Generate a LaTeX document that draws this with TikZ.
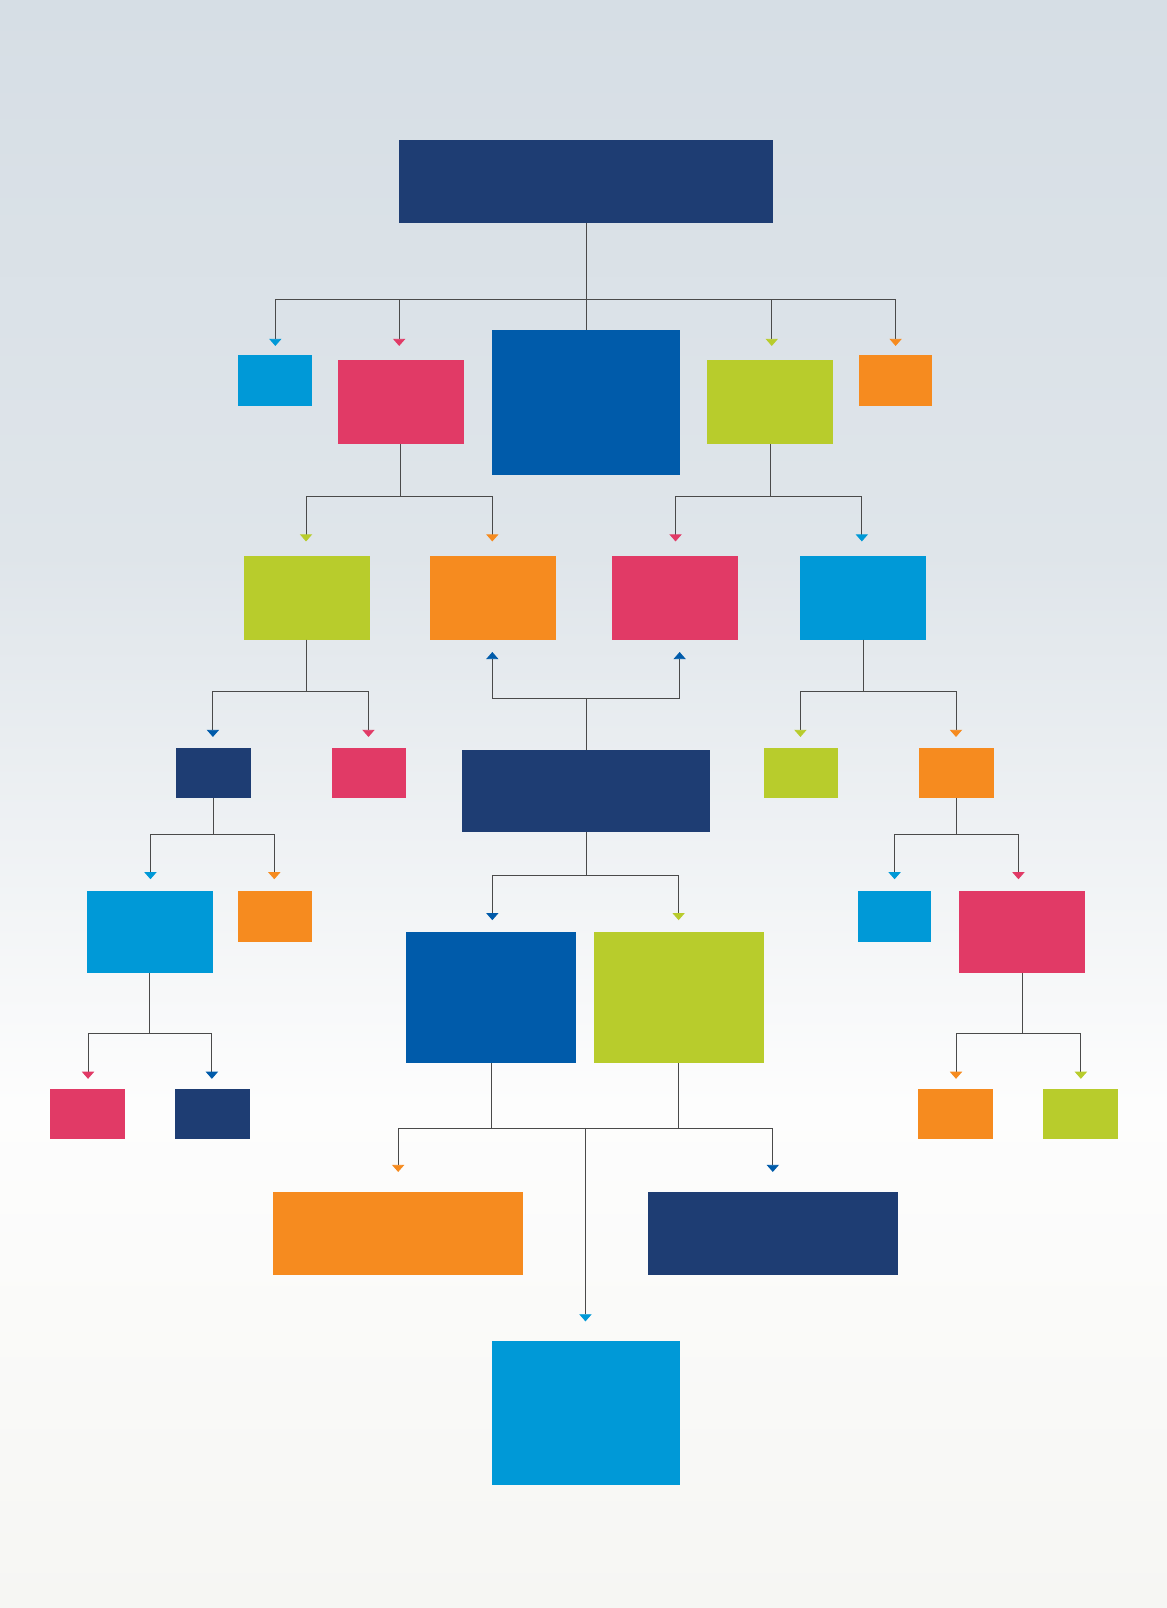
\documentclass[tikz,border=0pt]{standalone}
\usetikzlibrary{arrows.meta,calc}
\definecolor{navyC}{HTML}{1E3D73}
\definecolor{blueC}{HTML}{005BAA}
\definecolor{cyanC}{HTML}{0099D7}
\definecolor{pinkC}{HTML}{E13A66}
\definecolor{greenC}{HTML}{B8CC2C}
\definecolor{orangeC}{HTML}{F68B1F}
\definecolor{lineC}{HTML}{4A4A4A}
\definecolor{bgTop}{HTML}{D6DEE5}
\definecolor{bgUp}{HTML}{DFE5EA}
\definecolor{bgMid}{HTML}{FDFDFD}
\definecolor{bgBot}{HTML}{F6F6F3}
\newcommand\boxnode[6]{\node[cbox,fill=#6,minimum width={#4pt-#2pt},minimum height={#5pt-#3pt}] (#1) at ({(#2+#4)/2},{(#3+#5)/2}) {};}
\begin{document}
\begin{tikzpicture}[x=1pt,y=-1pt,
  cbox/.style={rectangle,draw=none,inner sep=0pt,outer sep=0pt},
  conn/.style={draw=lineC,line width=0.9pt},
  tipto/.style={conn,-{Triangle[width=12pt,length=7pt,color=#1]}}]
\useasboundingbox (0,0) rectangle (1140,1571);
\shade[top color=bgTop,bottom color=bgUp] (0,0) rectangle (1140,540);
\shade[top color=bgUp,bottom color=bgMid] (0,540) rectangle (1140,1080);
\shade[top color=bgMid,bottom color=bgBot] (0,1080) rectangle (1140,1571);

% boxes
\boxnode{top}{390}{137}{755}{218}{navyC}
\boxnode{b2a}{233}{347}{305}{397}{cyanC}
\boxnode{b2b}{330}{352}{453}{434}{pinkC}
\boxnode{b2c}{481}{322}{664}{464}{blueC}
\boxnode{b2d}{691}{352}{814}{434}{greenC}
\boxnode{b2e}{839}{347}{911}{397}{orangeC}

\boxnode{b3a}{238}{543}{361}{625}{greenC}
\boxnode{b3b}{420}{543}{543}{625}{orangeC}
\boxnode{b3c}{598}{543}{721}{625}{pinkC}
\boxnode{b3d}{782}{543}{905}{625}{cyanC}

\boxnode{mid}{451}{733}{694}{813}{navyC}
\boxnode{b4a}{172}{731}{245}{780}{navyC}
\boxnode{b4b}{324}{731}{397}{780}{pinkC}
\boxnode{b4c}{746}{731}{819}{780}{greenC}
\boxnode{b4d}{898}{731}{971}{780}{orangeC}

\boxnode{b5l1}{85}{870}{208}{951}{cyanC}
\boxnode{b5l2}{233}{870}{305}{920}{orangeC}
\boxnode{b5a}{397}{911}{563}{1039}{blueC}
\boxnode{b5b}{580}{911}{746}{1039}{greenC}
\boxnode{b5r1}{838}{870}{910}{920}{cyanC}
\boxnode{b5r2}{937}{870}{1060}{951}{pinkC}

\boxnode{b6a}{49}{1064}{122}{1113}{pinkC}
\boxnode{b6b}{171}{1064}{244}{1113}{navyC}
\boxnode{b6c}{897}{1064}{970}{1113}{orangeC}
\boxnode{b6d}{1019}{1064}{1092}{1113}{greenC}

\boxnode{b7a}{267}{1165}{511}{1246}{orangeC}
\boxnode{b7b}{633}{1165}{877}{1246}{navyC}
\boxnode{b8}{481}{1310}{664}{1451}{cyanC}

% arrow end points
\coordinate (t2a) at (269,338);
\coordinate (t2b) at (390,338);
\coordinate (t2d) at (754,338);
\coordinate (t2e) at (875,338);
\coordinate (j1) at (572,293);

\coordinate (t3a) at (299,529);
\coordinate (t3b) at (481,529);
\coordinate (t3c) at (660,529);
\coordinate (t3d) at (842,529);

\coordinate (u1) at (481,637);
\coordinate (u2) at (664,637);

\coordinate (t4a) at (208,720);
\coordinate (t4b) at (360,720);
\coordinate (t4c) at (782,720);
\coordinate (t4d) at (934,720);

\coordinate (t5a) at (147,859);
\coordinate (t5b) at (268,859);
\coordinate (t5c) at (481,899);
\coordinate (t5d) at (663,899);
\coordinate (t5e) at (874,859);
\coordinate (t5f) at (995,859);

\coordinate (t6a) at (86,1054);
\coordinate (t6b) at (207,1054);
\coordinate (t6c) at (934,1054);
\coordinate (t6d) at (1056,1054);

\coordinate (t7a) at (389,1145);
\coordinate (t7b) at (755,1145);
\coordinate (j7) at (572,1102);
\coordinate (t8) at (572,1291);

% connectors
\draw[conn] (top.south) -- (b2c.north);
\draw[tipto=cyanC] (j1) -| (t2a);
\draw[tipto=pinkC] (j1) -| (t2b);
\draw[tipto=greenC] (j1) -| (t2d);
\draw[tipto=orangeC] (j1) -| (t2e);

\draw[tipto=greenC] (b2b.south) -- ++(0,51) -| (t3a);
\draw[tipto=orangeC] (b2b.south) -- ++(0,51) -| (t3b);
\draw[tipto=pinkC] (b2d.south) -- ++(0,51) -| (t3c);
\draw[tipto=cyanC] (b2d.south) -- ++(0,51) -| (t3d);

\draw[tipto=blueC] (mid.north) -- ++(0,-51) -| (u1);
\draw[tipto=blueC] (mid.north) -- ++(0,-51) -| (u2);

\draw[tipto=blueC] (b3a.south) -- ++(0,51) -| (t4a);
\draw[tipto=pinkC] (b3a.south) -- ++(0,51) -| (t4b);
\draw[tipto=greenC] (b3d.south) -- ++(0,51) -| (t4c);
\draw[tipto=orangeC] (b3d.south) -- ++(0,51) -| (t4d);

\draw[tipto=cyanC] (b4a.south) -- ++(0,35) -| (t5a);
\draw[tipto=orangeC] (b4a.south) -- ++(0,35) -| (t5b);
\draw[tipto=blueC] (mid.south) -- ++(0,42) -| (t5c);
\draw[tipto=greenC] (mid.south) -- ++(0,42) -| (t5d);
\draw[tipto=cyanC] (b4d.south) -- ++(0,35) -| (t5e);
\draw[tipto=pinkC] (b4d.south) -- ++(0,35) -| (t5f);

\draw[tipto=pinkC] (b5l1.south) -- ++(0,59) -| (t6a);
\draw[tipto=blueC] (b5l1.south) -- ++(0,59) -| (t6b);
\draw[tipto=orangeC] (b5r2.south) -- ++(0,59) -| (t6c);
\draw[tipto=greenC] (b5r2.south) -- ++(0,59) -| (t6d);

\draw[tipto=orangeC] (b5a.south) -- ++(0,63) -| (t7a);
\draw[tipto=blueC] (b5b.south) -- ++(0,63) -| (t7b);
\draw[conn] (b5a.south |- j7) -- (b5b.south |- j7);
\draw[tipto=cyanC] (j7) -- (t8);
\end{tikzpicture}
\end{document}
